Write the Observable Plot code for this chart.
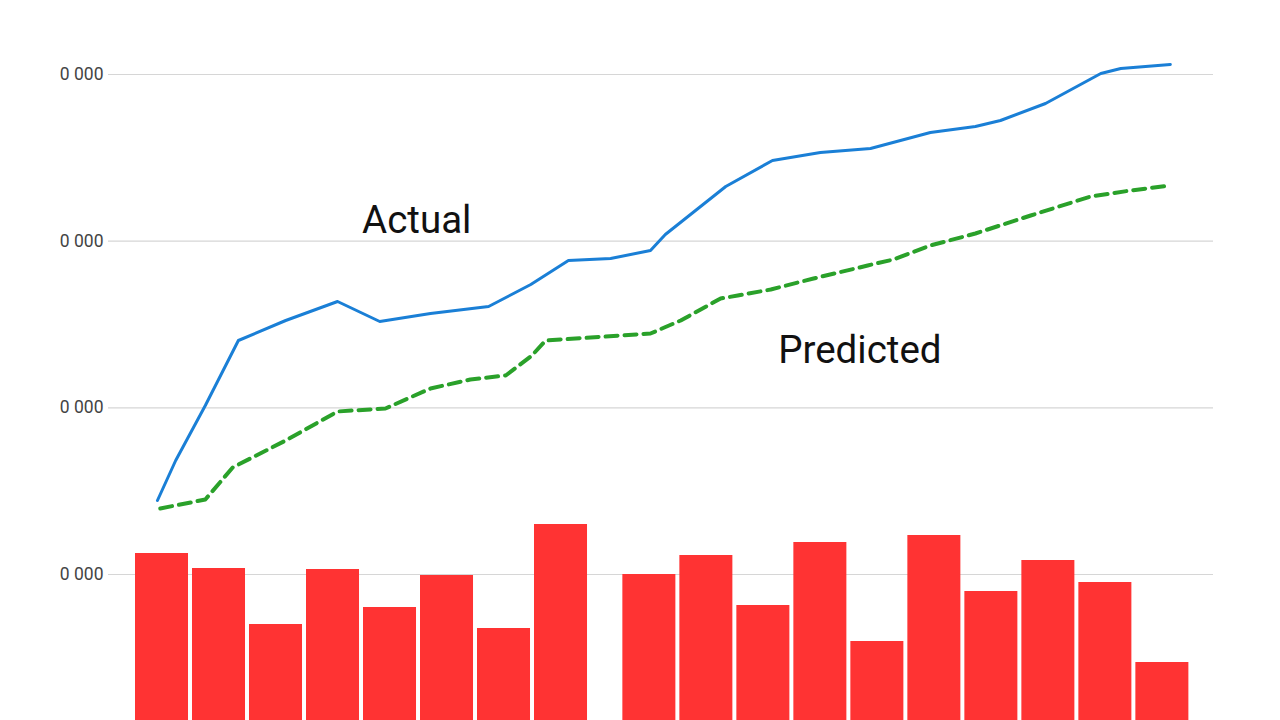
<!DOCTYPE html>
<html>
<head>
<meta charset="utf-8">
<script src="https://cdn.jsdelivr.net/npm/d3@7"></script>
<script src="https://cdn.jsdelivr.net/npm/@observablehq/plot@0.6"></script>
<style>
  html, body { margin: 0; padding: 0; background: #fff; }
  #chart { width: 1280px; height: 720px; overflow: hidden; }
</style>
</head>
<body>
<div id="chart"></div>
<script>
// ---- data ----
const yTicks = [1000, 2000, 3000, 4000];
const yTickLabels = ["0 000", "0 000", "0 000", "0 000"];

// bars: period position and value
const barPeriod = [1, 2, 3, 4, 5, 6, 7, 8,
  9.55, 10.55, 11.55, 12.55, 13.55, 14.55, 15.55, 16.55, 17.55, 18.55];
const barValue = [1126, 1036, 700, 1030, 802, 994, 676, 1300,
  1000, 1114, 814, 1192, 598, 1234, 898, 1084, 952, 472];

// Actual line
const actualPeriod = [0.92, 1.24, 1.76, 2.34, 3.17, 4.08, 4.82, 5.71, 6.73, 7.47, 8.13, 8.87, 9.57, 9.83,
  10.89, 11.71, 12.55, 13.43, 14.48, 15.27, 15.71, 16.50, 17.47, 17.82, 18.69];
const actualValue = [1444, 1684, 2014, 2404, 2524, 2638, 2518, 2566, 2608, 2740, 2884, 2896, 2944, 3040,
  3328, 3484, 3532, 3556, 3652, 3688, 3724, 3826, 4006, 4036, 4060];

// Predicted line
const predictedPeriod = [0.97, 1.76, 2.24, 3.17, 4.08, 4.92, 5.71, 6.41, 7.03, 7.49, 7.73, 8.52, 9.57, 10.10,
  10.80, 11.10, 11.68, 12.43, 13.38, 13.83, 14.48, 15.27, 16.24, 17.29, 17.99, 18.69];
const predictedValue = [1396, 1450, 1642, 1804, 1978, 1996, 2116, 2170, 2194, 2314, 2404, 2422, 2446, 2524,
  2656, 2674, 2710, 2776, 2854, 2890, 2974, 3046, 3154, 3268, 3304, 3334];

const seriesLabels = ["Actual", "Predicted"];
const labelPeriod = [4.51, 11.81];
const labelValue = [3124, 2341];

// ---- build tables ----
const bars = barPeriod.map((p, i) => ({period: p, value: barValue[i]}));
const actual = actualPeriod.map((p, i) => ({period: p, value: actualValue[i]}));
const predicted = predictedPeriod.map((p, i) => ({period: p, value: predictedValue[i]}));
const labels = seriesLabels.map((t, i) => ({text: t, period: labelPeriod[i], value: labelValue[i]}));

const halfBar = 0.465;

const chart = Plot.plot({
  width: 1280,
  height: 720,
  marginLeft: 108,
  marginRight: 67,
  marginTop: 0,
  marginBottom: 0,
  style: {fontFamily: "Roboto, 'Liberation Sans', sans-serif", background: "#fff", overflow: "hidden"},
  x: {type: "linear", domain: [0.0614, 19.447], axis: null},
  y: {type: "linear", domain: [124, 4444], axis: null},
  marks: [
    Plot.gridY(yTicks, {stroke: "#d6d6d6", strokeOpacity: 1, strokeWidth: 1.2}),
    Plot.axisY(yTicks, {
      tickSize: 0,
      tickPadding: 5,
      fontSize: 17.5,
      fill: "#444",
      label: null,
      tickFormat: d => yTickLabels[yTicks.indexOf(d)]
    }),
    Plot.rectY(bars, {
      x1: d => d.period - halfBar,
      x2: d => d.period + halfBar,
      y1: 0,
      y2: "value",
      fill: "#ff3333",
      clip: true
    }),
    Plot.line(actual, {x: "period", y: "value", stroke: "#1a7fd6", strokeWidth: 3, curve: "linear"}),
    Plot.line(predicted, {x: "period", y: "value", stroke: "#2aa12a", strokeWidth: 4, strokeDasharray: "12,7", curve: "linear"}),
    Plot.text(labels, {
      x: "period", y: "value", text: "text",
      textAnchor: "start", lineAnchor: "middle",
      fontSize: 38.5, fill: "#111"
    })
  ]
});

document.getElementById("chart").appendChild(chart);
</script>
</body>
</html>
